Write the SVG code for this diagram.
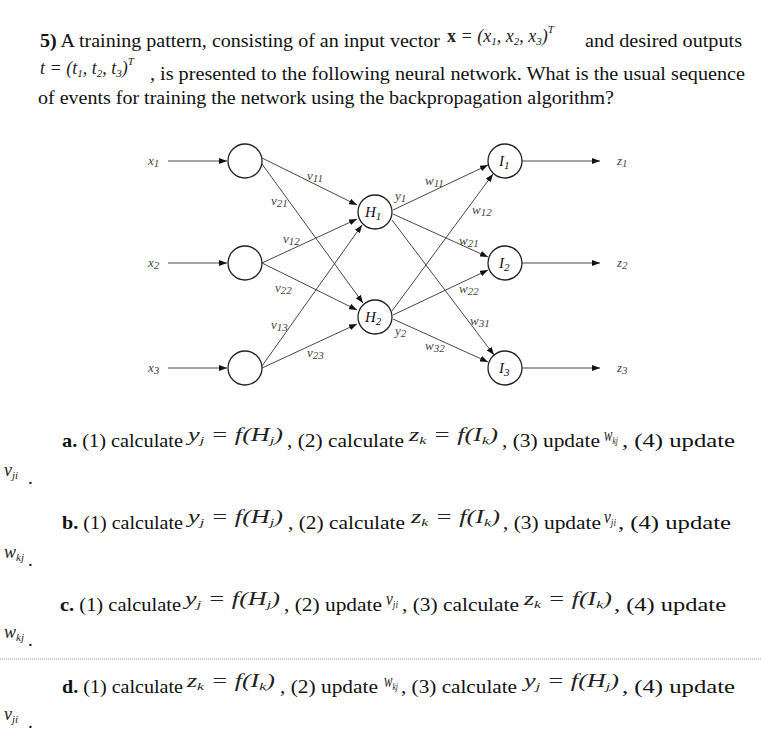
<svg xmlns="http://www.w3.org/2000/svg" width="761" height="750" viewBox="0 0 761 750">
<style>
.t{font-family:"Liberation Serif","Times New Roman",serif;font-size:19px;fill:#111}
.m{font-family:"Liberation Serif","Times New Roman",serif;font-size:18px;font-style:italic;fill:#222}
.s{font-size:11px}
.lab{font-family:"Liberation Serif",serif;font-size:13px;font-style:italic;fill:#444}
.nl{font-family:"Liberation Serif",serif;font-size:15px;font-style:italic;fill:#111}
.n{fill:#fff;stroke:#222;stroke-width:1.3}
.e{stroke:#333;stroke-width:0.9;fill:none;marker-end:url(#a)}
</style>
<defs><marker id="a" markerWidth="8" markerHeight="6" refX="8" refY="3" orient="auto" markerUnits="userSpaceOnUse"><path d="M0,0L8,3L0,6z" fill="#111"/></marker></defs>
<rect width="761" height="750" fill="#fff"/>
<text class="t" x="40" y="47" textLength="400" lengthAdjust="spacingAndGlyphs"><tspan font-weight="bold">5)</tspan> A training pattern, consisting of an input vector</text>
<text class="m" x="447" y="42"><tspan font-weight="bold" font-style="normal">x</tspan> = (x<tspan class="s" dy="3">1</tspan><tspan dy="-3">, x</tspan><tspan class="s" dy="3">2</tspan><tspan dy="-3">, x</tspan><tspan class="s" dy="3">3</tspan><tspan dy="-3">)</tspan><tspan class="s" dy="-9">T</tspan></text>
<text class="t" x="585" y="47" textLength="157" lengthAdjust="spacingAndGlyphs">and desired outputs</text>
<text class="m" x="40" y="74">t = (t<tspan class="s" dy="3">1</tspan><tspan dy="-3">, t</tspan><tspan class="s" dy="3">2</tspan><tspan dy="-3">, t</tspan><tspan class="s" dy="3">3</tspan><tspan dy="-3">)</tspan><tspan class="s" dy="-9">T</tspan></text>
<text class="t" x="150" y="80" textLength="595" lengthAdjust="spacingAndGlyphs">, is presented to the following neural network. What is the usual sequence</text>
<text class="t" x="38" y="104" textLength="576" lengthAdjust="spacingAndGlyphs">of events for training the network using the backpropagation algorithm?</text>
<g id="connectors">
<line class="e" x1="168" y1="161" x2="227" y2="161"/>
<line class="e" x1="168" y1="263" x2="227" y2="263"/>
<line class="e" x1="168" y1="368" x2="227" y2="368"/>
<line class="e" x1="262" y1="158" x2="357" y2="205"/>
<line class="e" x1="262" y1="164" x2="363" y2="303"/>
<line class="e" x1="262" y1="263" x2="357" y2="219"/>
<line class="e" x1="262" y1="263" x2="357" y2="310"/>
<line class="e" x1="262" y1="366" x2="362" y2="225"/>
<line class="e" x1="262" y1="368" x2="357" y2="324"/>
<line class="e" x1="393" y1="210" x2="488" y2="165"/>
<line class="e" x1="393" y1="214" x2="488" y2="257"/>
<line class="e" x1="392" y1="220" x2="494" y2="355"/>
<line class="e" x1="392" y1="311" x2="493" y2="174"/>
<line class="e" x1="393" y1="315" x2="488" y2="270"/>
<line class="e" x1="393" y1="319" x2="488" y2="362"/>
<line class="e" x1="522" y1="161" x2="600" y2="161"/>
<line class="e" x1="522" y1="263" x2="600" y2="263"/>
<line class="e" x1="522" y1="368" x2="600" y2="368"/>
</g>
<g id="x1"><text class="lab" x="148" y="165">x<tspan class="s" dy="2">1</tspan></text><circle class="n" cx="245" cy="161" r="17"/></g>
<g id="x2"><text class="lab" x="148" y="267">x<tspan class="s" dy="2">2</tspan></text><circle class="n" cx="245" cy="263" r="17"/></g>
<g id="x3"><text class="lab" x="148" y="372">x<tspan class="s" dy="2">3</tspan></text><circle class="n" cx="245" cy="368" r="17"/></g>
<g id="H1"><circle class="n" cx="375" cy="212" r="17"/><text class="nl" x="365" y="217">H<tspan class="s" dy="3">1</tspan></text></g>
<g id="H2"><circle class="n" cx="375" cy="317" r="17"/><text class="nl" x="365" y="322">H<tspan class="s" dy="3">2</tspan></text></g>
<g id="I1"><circle class="n" cx="505" cy="161" r="17"/><text class="nl" x="499" y="166">I<tspan class="s" dy="3">1</tspan></text></g>
<g id="I2"><circle class="n" cx="505" cy="263" r="17"/><text class="nl" x="499" y="268">I<tspan class="s" dy="3">2</tspan></text></g>
<g id="I3"><circle class="n" cx="505" cy="368" r="17"/><text class="nl" x="499" y="373">I<tspan class="s" dy="3">3</tspan></text></g>
<g id="labels">
<text class="lab" x="617" y="165">z<tspan class="s" dy="2">1</tspan></text>
<text class="lab" x="617" y="267">z<tspan class="s" dy="2">2</tspan></text>
<text class="lab" x="617" y="372">z<tspan class="s" dy="2">3</tspan></text>
<text class="lab" x="307" y="180">v<tspan class="s" dy="2">11</tspan></text>
<text class="lab" x="271" y="205">v<tspan class="s" dy="2">21</tspan></text>
<text class="lab" x="283" y="243">v<tspan class="s" dy="2">12</tspan></text>
<text class="lab" x="275" y="292">v<tspan class="s" dy="2">22</tspan></text>
<text class="lab" x="271" y="329">v<tspan class="s" dy="2">13</tspan></text>
<text class="lab" x="307" y="357">v<tspan class="s" dy="2">23</tspan></text>
<text class="lab" x="395" y="200">y<tspan class="s" dy="2">1</tspan></text>
<text class="lab" x="395" y="335">y<tspan class="s" dy="2">2</tspan></text>
<text class="lab" x="425" y="185">w<tspan class="s" dy="2">11</tspan></text>
<text class="lab" x="472" y="214">w<tspan class="s" dy="2">12</tspan></text>
<text class="lab" x="459" y="245">w<tspan class="s" dy="2">21</tspan></text>
<text class="lab" x="459" y="293">w<tspan class="s" dy="2">22</tspan></text>
<text class="lab" x="470" y="325">w<tspan class="s" dy="2">31</tspan></text>
<text class="lab" x="425" y="350">w<tspan class="s" dy="2">32</tspan></text>
</g>
<g id="optA">
<text class="t" x="62" y="447" textLength="121" lengthAdjust="spacingAndGlyphs"><tspan font-weight="bold">a.</tspan> (1) calculate</text>
<text class="m" x="188" y="441" textLength="95" lengthAdjust="spacingAndGlyphs">y<tspan class="s" dy="3">j</tspan><tspan dy="-3"> = f(H</tspan><tspan class="s" dy="3">j</tspan><tspan dy="-3">)</tspan></text>
<text class="t" x="287" y="447" textLength="117" lengthAdjust="spacingAndGlyphs">, (2) calculate</text>
<text class="m" x="409" y="441" textLength="89" lengthAdjust="spacingAndGlyphs">z<tspan class="s" dy="3">k</tspan><tspan dy="-3"> = f(I</tspan><tspan class="s" dy="3">k</tspan><tspan dy="-3">)</tspan></text>
<text class="t" x="502" y="447" textLength="98" lengthAdjust="spacingAndGlyphs">, (3) update</text>
<text class="m" x="604" y="441" textLength="14" lengthAdjust="spacingAndGlyphs">w<tspan class="s" dy="3">kj</tspan></text>
<text class="t" x="622" y="447" textLength="113" lengthAdjust="spacingAndGlyphs">, (4) update</text>
<text class="m" x="4" y="476">v<tspan class="s" dy="3">ji</tspan></text><text class="t" x="28" y="484">.</text>
</g>
<g id="optB">
<text class="t" x="62" y="529" textLength="121" lengthAdjust="spacingAndGlyphs"><tspan font-weight="bold">b.</tspan> (1) calculate</text>
<text class="m" x="188" y="523" textLength="95" lengthAdjust="spacingAndGlyphs">y<tspan class="s" dy="3">j</tspan><tspan dy="-3"> = f(H</tspan><tspan class="s" dy="3">j</tspan><tspan dy="-3">)</tspan></text>
<text class="t" x="288" y="529" textLength="117" lengthAdjust="spacingAndGlyphs">, (2) calculate</text>
<text class="m" x="411" y="523" textLength="89" lengthAdjust="spacingAndGlyphs">z<tspan class="s" dy="3">k</tspan><tspan dy="-3"> = f(I</tspan><tspan class="s" dy="3">k</tspan><tspan dy="-3">)</tspan></text>
<text class="t" x="503" y="529" textLength="98" lengthAdjust="spacingAndGlyphs">, (3) update</text>
<text class="m" x="604" y="523" textLength="12" lengthAdjust="spacingAndGlyphs">v<tspan class="s" dy="3">ji</tspan></text>
<text class="t" x="618" y="529" textLength="113" lengthAdjust="spacingAndGlyphs">, (4) update</text>
<text class="m" x="4" y="558">w<tspan class="s" dy="3">kj</tspan></text><text class="t" x="28" y="566">.</text>
</g>
<g id="optC">
<text class="t" x="60" y="611" textLength="121" lengthAdjust="spacingAndGlyphs"><tspan font-weight="bold">c.</tspan> (1) calculate</text>
<text class="m" x="185" y="605" textLength="95" lengthAdjust="spacingAndGlyphs">y<tspan class="s" dy="3">j</tspan><tspan dy="-3"> = f(H</tspan><tspan class="s" dy="3">j</tspan><tspan dy="-3">)</tspan></text>
<text class="t" x="284" y="611" textLength="98" lengthAdjust="spacingAndGlyphs">, (2) update</text>
<text class="m" x="386" y="605" textLength="12" lengthAdjust="spacingAndGlyphs">v<tspan class="s" dy="3">ji</tspan></text>
<text class="t" x="402" y="611" textLength="117" lengthAdjust="spacingAndGlyphs">, (3) calculate</text>
<text class="m" x="524" y="605" textLength="88" lengthAdjust="spacingAndGlyphs">z<tspan class="s" dy="3">k</tspan><tspan dy="-3"> = f(I</tspan><tspan class="s" dy="3">k</tspan><tspan dy="-3">)</tspan></text>
<text class="t" x="614" y="611" textLength="112" lengthAdjust="spacingAndGlyphs">, (4) update</text>
<text class="m" x="4" y="638">w<tspan class="s" dy="3">kj</tspan></text><text class="t" x="28" y="646">.</text>
</g>
<line x1="0" y1="659" x2="761" y2="659" stroke="#999" stroke-width="1" stroke-dasharray="1,1"/>
<g id="optD">
<text class="t" x="62" y="693" textLength="121" lengthAdjust="spacingAndGlyphs"><tspan font-weight="bold">d.</tspan> (1) calculate</text>
<text class="m" x="187" y="687" textLength="88" lengthAdjust="spacingAndGlyphs">z<tspan class="s" dy="3">k</tspan><tspan dy="-3"> = f(I</tspan><tspan class="s" dy="3">k</tspan><tspan dy="-3">)</tspan></text>
<text class="t" x="280" y="693" textLength="98" lengthAdjust="spacingAndGlyphs">, (2) update</text>
<text class="m" x="384" y="687" textLength="14" lengthAdjust="spacingAndGlyphs">w<tspan class="s" dy="3">kj</tspan></text>
<text class="t" x="401" y="693" textLength="116" lengthAdjust="spacingAndGlyphs">, (3) calculate</text>
<text class="m" x="524" y="687" textLength="95" lengthAdjust="spacingAndGlyphs">y<tspan class="s" dy="3">j</tspan><tspan dy="-3"> = f(H</tspan><tspan class="s" dy="3">j</tspan><tspan dy="-3">)</tspan></text>
<text class="t" x="622" y="693" textLength="113" lengthAdjust="spacingAndGlyphs">, (4) update</text>
<text class="m" x="4" y="720">v<tspan class="s" dy="3">ji</tspan></text><text class="t" x="28" y="728">.</text>
</g>
</svg>
